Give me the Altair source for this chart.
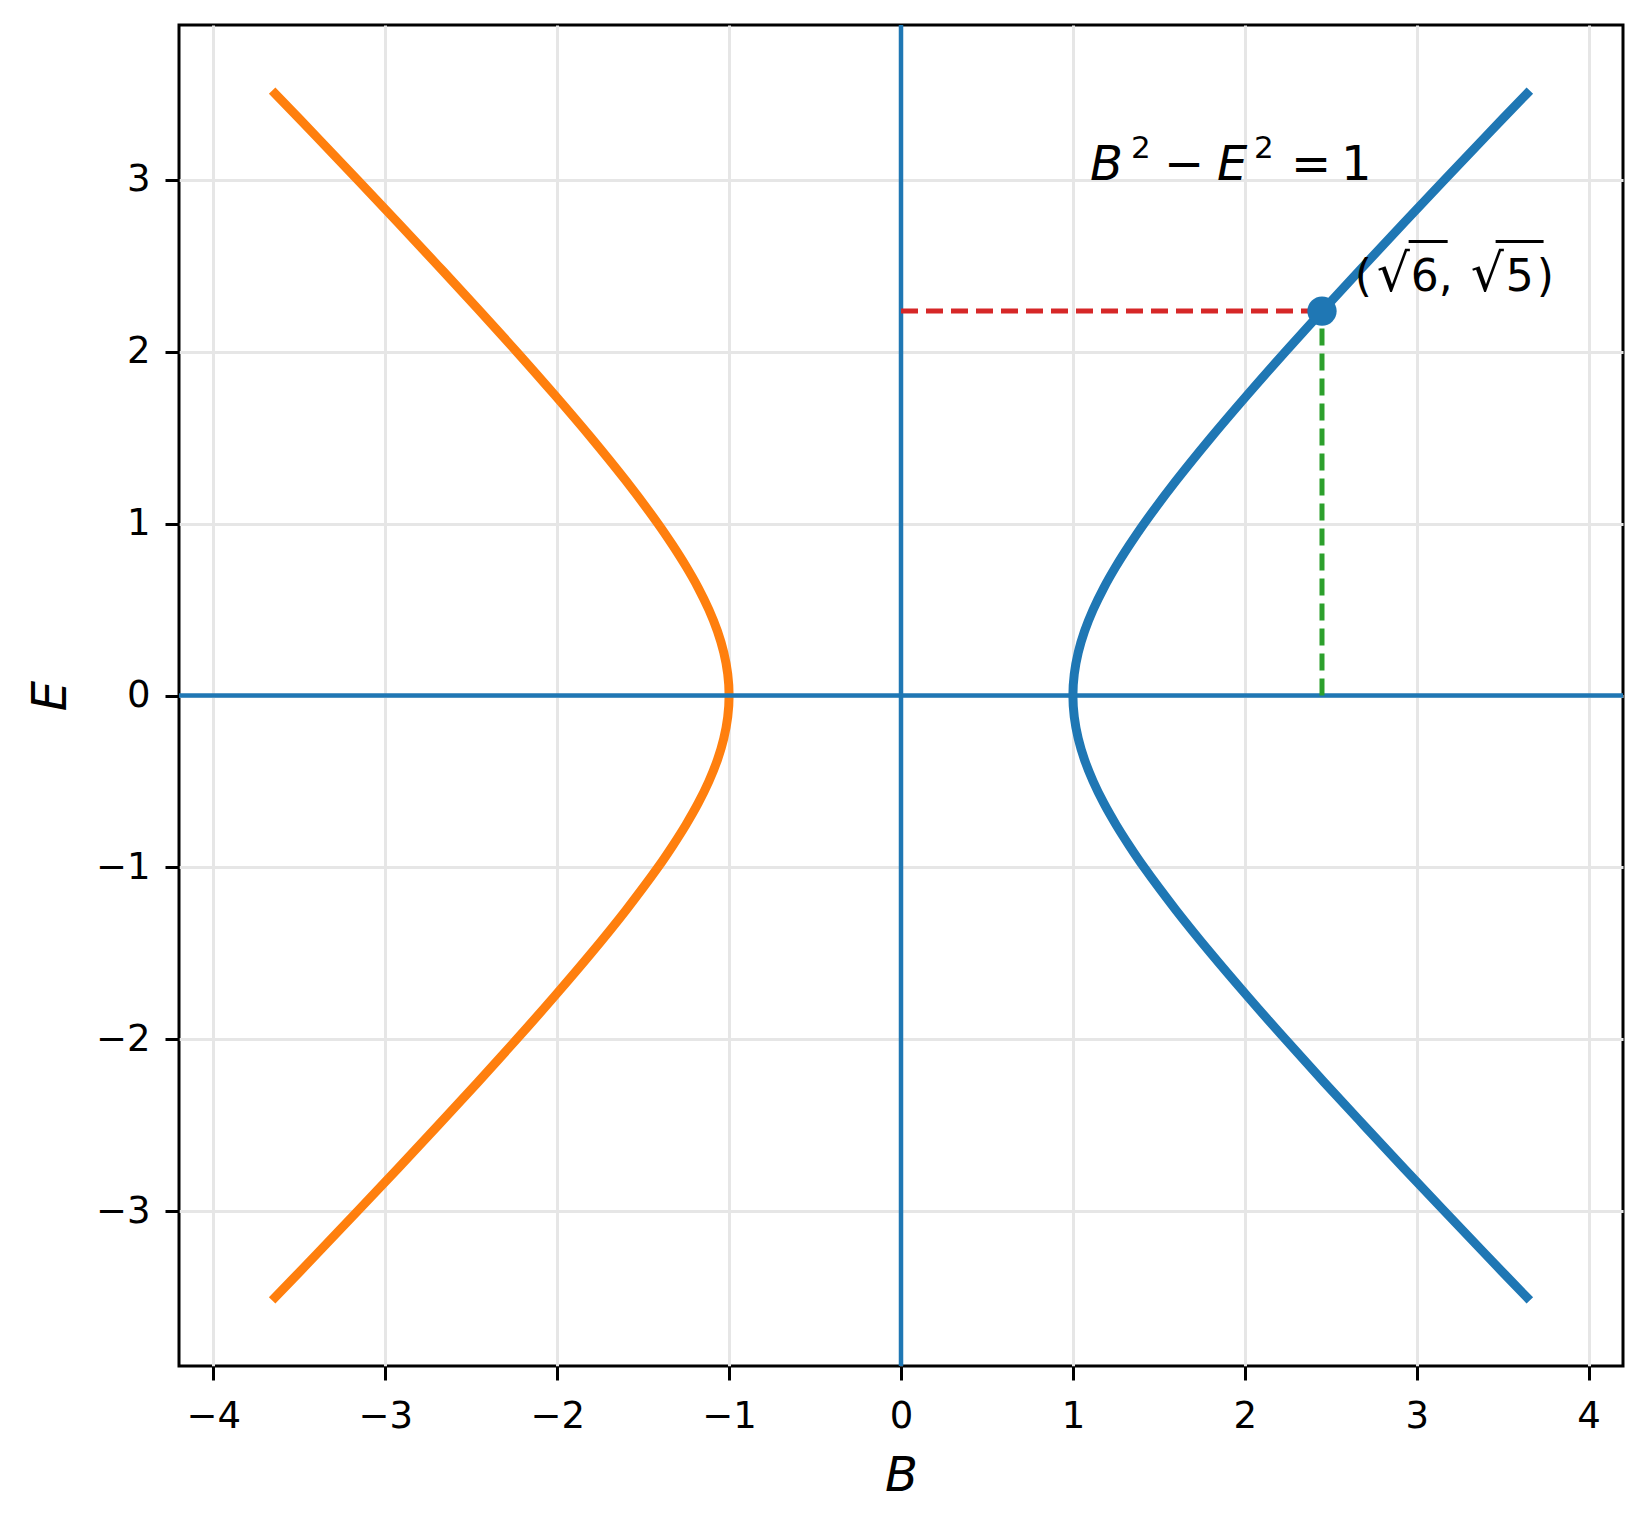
import altair as alt
import pandas as pd

# ---------------- data ----------------
E_vals = [-3.5, -3.25, -3.0, -2.75, -2.5, -2.25, -2.0, -1.75, -1.5, -1.25, -1.0,
          -0.875, -0.75, -0.625, -0.5, -0.375, -0.25, -0.125, 0.0,
          0.125, 0.25, 0.375, 0.5, 0.625, 0.75, 0.875,
          1.0, 1.25, 1.5, 1.75, 2.0, 2.25, 2.5, 2.75, 3.0, 3.25, 3.5]
B_right = [3.640, 3.400, 3.162, 2.926, 2.693, 2.462, 2.236, 2.016, 1.803, 1.601, 1.414,
           1.329, 1.250, 1.179, 1.118, 1.068, 1.031, 1.008, 1.000,
           1.008, 1.031, 1.068, 1.118, 1.179, 1.250, 1.329,
           1.414, 1.601, 1.803, 2.016, 2.236, 2.462, 2.693, 2.926, 3.162, 3.400, 3.640]
B_left = [-3.640, -3.400, -3.162, -2.926, -2.693, -2.462, -2.236, -2.016, -1.803, -1.601, -1.414,
          -1.329, -1.250, -1.179, -1.118, -1.068, -1.031, -1.008, -1.000,
          -1.008, -1.031, -1.068, -1.118, -1.179, -1.250, -1.329,
          -1.414, -1.601, -1.803, -2.016, -2.236, -2.462, -2.693, -2.926, -3.162, -3.400, -3.640]

point_B = [2.449]
point_E = [2.236]

x_ticks = [-4, -3, -2, -1, 0, 1, 2, 3, 4]
y_ticks = [-3, -2, -1, 0, 1, 2, 3]

x_title = "B"
y_title = "E"

eq_anchor = {"x": [1.1], "y": [3.0]}
eq_parts = ["B", "2", "−", "E", "2", "=", "1"]
ann_anchor = {"x": [2.64], "y": [2.35]}
ann_parts = ["(", "√", "6,", "√", "5", ")"]
# overbars of the two square roots (data coordinates)
vinc_x = [2.953, 3.459]
vinc_x2 = [3.180, 3.738]
vinc_y = [2.640, 2.640]

# ---------------- styles ----------------
BLUE = "#1f77b4"
ORANGE = "#ff7f0e"
RED = "#d62728"
GREEN = "#2ca02c"
FONT = "DejaVu Sans"

# (dx, dy, fontSize, fontStyle) for each text part
eq_style = [(0, 0, 48, "italic"), (41, -22, 31, "normal"), (74, 0, 48, "normal"),
            (127, 0, 48, "italic"), (164, -22, 31, "normal"), (201, 0, 48, "normal"),
            (251, 0, 48, "normal")]
ann_style = [(0, 0, 44, "normal"), (22, 0, 52, "normal"), (56, 0, 44, "normal"),
             (116, 0, 52, "normal"), (151, 0, 44, "normal"), (182, 0, 44, "normal")]

xs = alt.Scale(domain=[-4.2, 4.2], nice=False, zero=False)
ys = alt.Scale(domain=[-3.9, 3.9], nice=False, zero=False)
xax = alt.Axis(values=x_ticks, labelPadding=18, titlePadding=18, labelFlush=False, grid=True)
yax = alt.Axis(values=y_ticks, labelPadding=15, titlePadding=20, labelFlush=False, grid=True)


def X(f):
    return alt.X(f, type="quantitative", scale=xs, axis=xax, title=x_title)


def Y(f):
    return alt.Y(f, type="quantitative", scale=ys, axis=yax, title=y_title)


right_df = pd.DataFrame({"B": B_right, "E": E_vals, "i": list(range(len(E_vals)))})
left_df = pd.DataFrame({"B": B_left, "E": E_vals, "i": list(range(len(E_vals)))})

right = alt.Chart(right_df).mark_line(color=BLUE, strokeWidth=9, interpolate="catmull-rom",
                                      strokeCap="square").encode(
    x=X("B"), y=Y("E"), order=alt.Order("i:Q"))
left = alt.Chart(left_df).mark_line(color=ORANGE, strokeWidth=9, interpolate="catmull-rom",
                                    strokeCap="square").encode(
    x=X("B"), y=Y("E"), order=alt.Order("i:Q"))

zero_df = pd.DataFrame({"v": [0.0]})
hline = alt.Chart(zero_df).mark_rule(color=BLUE, strokeWidth=4.5).encode(y=Y("v"))
vline = alt.Chart(zero_df).mark_rule(color=BLUE, strokeWidth=4.5).encode(x=X("v"))

red_df = pd.DataFrame({"x": [0.0], "x2": point_B, "y": point_E})
red = alt.Chart(red_df).mark_rule(color=RED, strokeWidth=5, strokeDash=[17, 8]).encode(
    x=X("x"), x2=alt.X2("x2"), y=Y("y"))
green_df = pd.DataFrame({"x": point_B, "y": [0.0], "y2": point_E})
green = alt.Chart(green_df).mark_rule(color=GREEN, strokeWidth=5, strokeDash=[17, 8]).encode(
    x=X("x"), y=Y("y"), y2=alt.Y2("y2"))

pt_df = pd.DataFrame({"B": point_B, "E": point_E})
pt = alt.Chart(pt_df).mark_point(filled=True, size=860, color=BLUE, opacity=1).encode(
    x=X("B"), y=Y("E"))

vinc_df = pd.DataFrame({"x": vinc_x, "x2": vinc_x2, "y": vinc_y})
vinc = alt.Chart(vinc_df).mark_rule(color="black", strokeWidth=3).encode(
    x=X("x"), x2=alt.X2("x2"), y=Y("y"))

layers = [left, right, hline, vline, red, green, pt, vinc]

eq_df = pd.DataFrame(eq_anchor)
for txt, (dx, dy, fs, st) in zip(eq_parts, eq_style):
    layers.append(alt.Chart(eq_df).mark_text(
        text=txt, dx=dx, dy=dy, fontSize=fs, fontStyle=st, font=FONT, color="black",
        align="left", baseline="alphabetic").encode(x=X("x"), y=Y("y")))

ann_df = pd.DataFrame(ann_anchor)
for txt, (dx, dy, fs, st) in zip(ann_parts, ann_style):
    layers.append(alt.Chart(ann_df).mark_text(
        text=txt, dx=dx, dy=dy, fontSize=fs, fontStyle=st, font=FONT, color="black",
        align="left", baseline="alphabetic").encode(x=X("x"), y=Y("y")))

chart = alt.layer(*layers).properties(
    width=1444, height=1341,
    autosize=alt.AutoSizeParams(type="none"),
    padding={"left": 171, "top": 17, "right": 15, "bottom": 140},
).configure_view(
    stroke="black", strokeWidth=3
).configure_axis(
    labelFont=FONT, labelFontSize=37, labelColor="black",
    titleFont=FONT, titleFontSize=48, titleFontStyle="italic", titleFontWeight="normal",
    titleColor="black", tickColor="black", tickWidth=3, tickSize=14, domain=False,
    gridColor="#e6e6e6", gridWidth=3, labelOverlap=False
)

chart.save("out.html", embed_options={"renderer": "svg", "actions": False})
